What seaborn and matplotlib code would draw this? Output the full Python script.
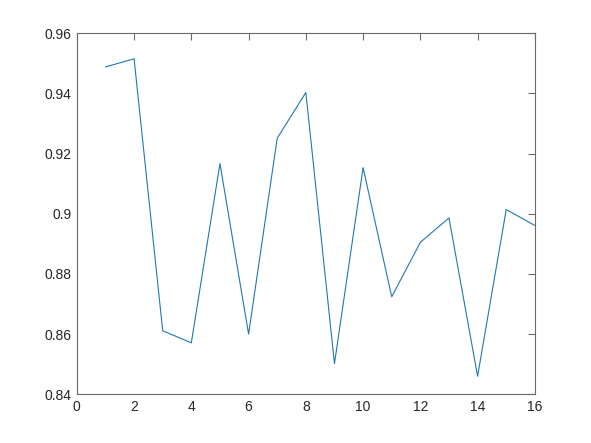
import pandas as pd
import seaborn as sns
import matplotlib.pyplot as plt
from matplotlib.ticker import FuncFormatter

# data
x_vals = list(range(1, 17))
y_vals = [0.9488, 0.9515, 0.8611, 0.8571, 0.9167, 0.8600, 0.9251, 0.9403,
          0.8502, 0.9153, 0.8724, 0.8905, 0.8986, 0.8460, 0.9014, 0.8961]
x_ticks = [0, 2, 4, 6, 8, 10, 12, 14, 16]
y_ticks = [0.84, 0.86, 0.88, 0.90, 0.92, 0.94, 0.96]

df = pd.DataFrame({'x': x_vals, 'y': y_vals})

sns.set_style("white")
plt.rcParams['font.family'] = ['Liberation Sans', 'DejaVu Sans']

fig = plt.figure(figsize=(5.91, 4.43), dpi=100)
ax = fig.add_axes([0.13, 0.11, 0.775, 0.815])
sns.lineplot(data=df, x='x', y='y', ax=ax, color='#1f78b4', linewidth=0.8)

ax.set_xlim(0, 16)
ax.set_ylim(0.84, 0.96)
ax.set_xticks(x_ticks)
ax.set_yticks(y_ticks)
ax.yaxis.set_major_formatter(FuncFormatter(lambda v, p: f'{v:g}'))
ax.set_xlabel('')
ax.set_ylabel('')

edge = '#6a6a6a'
for s in ax.spines.values():
    s.set_color(edge)
    s.set_linewidth(0.8)
ax.tick_params(direction='in', length=5, width=0.8, color=edge,
               top=True, right=True, labelsize=10, labelcolor='#262626', pad=4)

fig.savefig('out.png', dpi=100)
